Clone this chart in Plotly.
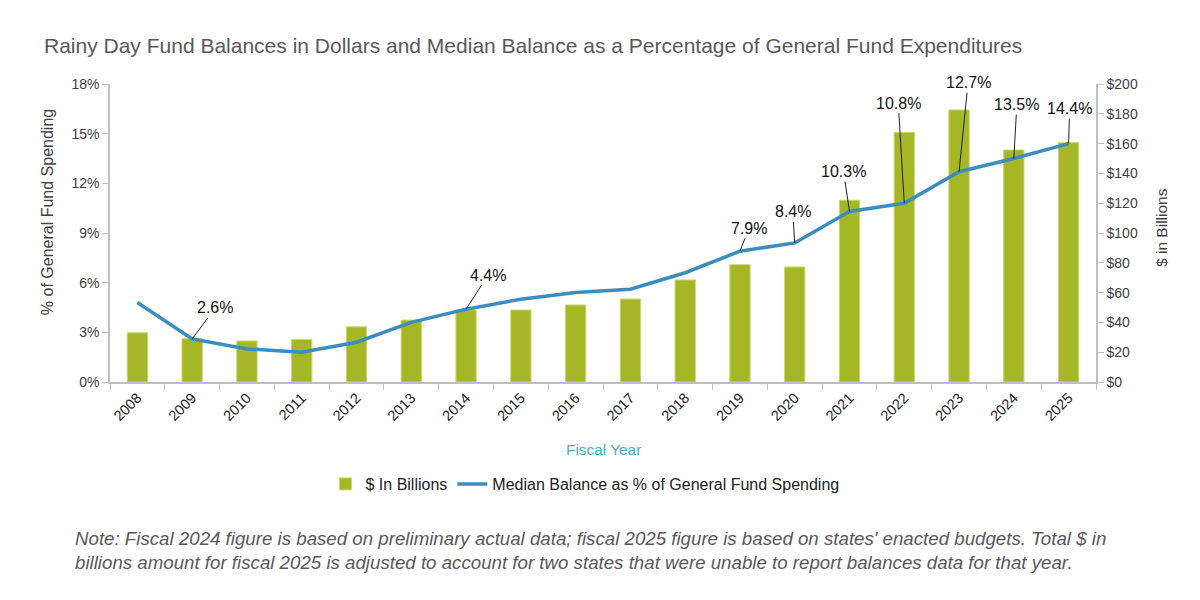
import plotly.graph_objects as go

years = [str(y) for y in range(2008, 2026)]
dollars = [33, 29, 27.5, 28.6, 37, 41.6, 48.3, 48.3, 51.7, 55.7, 68.5, 78.7, 77.2, 122, 167.6, 182.6, 155.7, 160.6]
median_pct = [4.8, 2.6, 2.0, 1.8, 2.4, 3.6, 4.4, 5.0, 5.4, 5.6, 6.6, 7.9, 8.4, 10.3, 10.8, 12.7, 13.5, 14.4]
label_years = ["2009", "2014", "2019", "2020", "2021", "2022", "2023", "2024", "2025"]
label_offsets = [(23, -31), (22, -34), (9, -23), (-2, -31), (-6, -40), (-6, -100), (9, -89), (3, -54), (1, -35)]

pct_ticks = [0, 3, 6, 9, 12, 15, 18]
pct_labels = [f"{v}%" for v in pct_ticks]
usd_ticks = list(range(0, 201, 20))
usd_labels = [f"${v}" for v in usd_ticks]

FONT = "Liberation Sans, Arial, sans-serif"
GRAY = "#404040"
AXC = "#BFBFBF"

fig = go.Figure()
fig.add_trace(go.Bar(
    x=years, y=dollars, name="$ In Billions", yaxis="y",
    marker=dict(color="#A5B727", line=dict(color="#C9D66B", width=1)),
    width=0.37,
))
fig.add_trace(go.Scatter(
    x=years, y=median_pct, name="Median Balance as % of General Fund Spending",
    yaxis="y2", mode="lines", line=dict(color="#3A8DBE", width=3.5),
))

annotations = []
for yr, (ax, ay) in zip(label_years, label_offsets):
    i = years.index(yr)
    v = median_pct[i]
    annotations.append(dict(
        x=i, y=v, xref="x", yref="y2", text=f"{v}%", showarrow=True,
        arrowhead=0, arrowwidth=1, arrowcolor="#222222", ax=ax, ay=ay,
        font=dict(family=FONT, size=16, color="#111111"),
    ))

annotations += [
    dict(text="Rainy Day Fund Balances in Dollars and Median Balance as a Percentage of General Fund Expenditures",
         x=(42 - 110) / 986, y=(382 - 45) / 298, xref="paper", yref="paper", xanchor="left", yanchor="middle",
         showarrow=False, font=dict(family=FONT, size=21, color="#595959")),
    dict(text="% of General Fund Spending", x=(47 - 110) / 986, xref="paper", y=0.57, yref="paper",
         xanchor="center", yanchor="middle",
         showarrow=False, textangle=-90, font=dict(family=FONT, size=16, color=GRAY)),
    dict(text="$ in Billions", x=(1162 - 110) / 986, y=0.517, xref="paper", yref="paper",
         xanchor="center", yanchor="middle",
         showarrow=False, textangle=-90, font=dict(family=FONT, size=15.5, color=GRAY)),
    dict(text="Fiscal Year", x=(603 - 110) / 986, y=(382 - 449) / 298, xref="paper", yref="paper",
         xanchor="center", yanchor="middle",
         showarrow=False, font=dict(family=FONT, size=15.4, color="#4BACC6")),
    dict(text="<i>Note: Fiscal 2024 figure is based on preliminary actual data; fiscal 2025 figure is based on states' enacted budgets. Total $ in<br>billions amount for fiscal 2025 is adjusted to account for two states that were unable to report balances data for that year.</i>",
         x=(73 - 110) / 986, y=(382 - 526) / 298, xref="paper", yref="paper", xanchor="left", yanchor="top",
         align="left", showarrow=False, font=dict(family=FONT, size=18.7, color="#595959")),
]

fig.update_layout(
    width=1200, height=600,
    margin=dict(l=110, r=104, t=84, b=218),
    paper_bgcolor="white", plot_bgcolor="white",
    font=dict(family=FONT, color=GRAY),
    showlegend=True,
    legend=dict(orientation="h", x=(585 - 110) / 986, xanchor="center", y=(382 - 484) / 298, yanchor="middle",
                font=dict(family=FONT, size=16, color="#222222"), traceorder="normal"),
    xaxis=dict(type="category", range=[-0.5, 17.5], autorange=False, tickangle=-45, tickson="boundaries",
               ticks="outside", ticklen=6,
               tickcolor=AXC, showline=True, linecolor=AXC, linewidth=1.5, showgrid=False,
               tickfont=dict(family=FONT, size=14.5, color="#222222")),
    yaxis=dict(side="right", range=[0, 200], tickvals=usd_ticks, ticktext=usd_labels,
               ticks="outside", ticklen=6, tickcolor=AXC, showline=True, linecolor=AXC, linewidth=1.5,
               showgrid=False, zeroline=False, tickfont=dict(family=FONT, size=14, color=GRAY)),
    yaxis2=dict(side="left", overlaying="y", range=[0, 18], tickvals=pct_ticks, ticktext=pct_labels,
                ticks="outside", ticklen=6, tickcolor=AXC, showline=True, linecolor=AXC, linewidth=1.5,
                showgrid=False, zeroline=False, tickfont=dict(family=FONT, size=14, color=GRAY)),
    annotations=annotations,
)

fig.write_html("out.html")
